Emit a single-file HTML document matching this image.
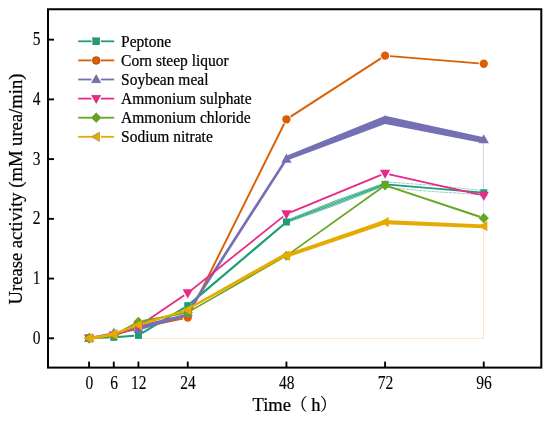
<!DOCTYPE html>
<html><head><meta charset="utf-8"><title>Urease activity</title>
<style>html,body{margin:0;padding:0;background:#fff}</style></head>
<body>
<svg width="550" height="421" viewBox="0 0 550 421" style="display:block">
<rect width="550" height="421" fill="#fff"/>
<polyline points="141.93,338.50 483.46,338.50 483.46,226.50" fill="none" stroke="#fde8bf" stroke-width="1.1"/>
<line x1="483.46" y1="139.90" x2="483.46" y2="195.45" stroke="#d6d4ea" stroke-width="1.1"/>
<line x1="483.46" y1="195.45" x2="483.46" y2="218.14" stroke="#e6e5f2" stroke-width="1"/>
<g><line x1="93.30" y1="338.05" x2="109.57" y2="337.46" stroke="#1b9e77" stroke-width="2"/><line x1="117.95" y1="336.98" x2="134.24" y2="335.72" stroke="#1b9e77" stroke-width="2"/><line x1="142.03" y1="333.22" x2="184.17" y2="307.82" stroke="#1b9e77" stroke-width="2"/><line x1="190.97" y1="302.93" x2="283.22" y2="224.74" stroke="#1b9e77" stroke-width="2.2"/><polygon points="289.79,218.74 335.76,200.31 381.73,183.88 381.73,187.08 335.76,205.31 289.79,221.74" fill="#1b9e77" fill-opacity="0.3"/><polyline points="289.79,218.94 335.76,200.51 381.73,184.08" fill="none" stroke="#1b9e77" stroke-width="0.7" stroke-opacity="0.75"/><polyline points="289.79,219.79 335.76,202.01 381.73,184.98" fill="none" stroke="#1b9e77" stroke-width="0.9" stroke-opacity="1"/><polyline points="289.79,220.69 335.76,203.61 381.73,185.98" fill="none" stroke="#1b9e77" stroke-width="0.9" stroke-opacity="1"/><polyline points="289.79,221.54 335.76,205.11 381.73,186.88" fill="none" stroke="#1b9e77" stroke-width="0.7" stroke-opacity="0.75"/><line x1="388.68" y1="184.70" x2="480.17" y2="192.45" stroke="#1b9e77" stroke-width="1.7"/><polyline points="388.68,182.10 434.42,185.48 480.17,190.25" fill="none" stroke="#1b9e77" stroke-width="1" stroke-opacity="0.45" stroke-dasharray="3.5 0.8"/><polyline points="388.68,187.60 434.42,191.68 480.17,194.45" fill="none" stroke="#1b9e77" stroke-width="1" stroke-opacity="0.45" stroke-dasharray="3.5 0.8"/><rect x="85.60" y="334.70" width="7.0" height="7.0" fill="#1b9e77"/><rect x="110.27" y="333.80" width="7.0" height="7.0" fill="#1b9e77"/><rect x="134.93" y="331.89" width="7.0" height="7.0" fill="#1b9e77"/><rect x="184.26" y="302.15" width="7.0" height="7.0" fill="#1b9e77"/><rect x="282.93" y="218.53" width="7.0" height="7.0" fill="#1b9e77"/><rect x="381.59" y="180.90" width="7.0" height="7.0" fill="#1b9e77"/><rect x="480.26" y="189.26" width="7.0" height="7.0" fill="#1b9e77"/></g>
<g><line x1="94.06" y1="337.60" x2="108.80" y2="335.81" stroke="#d95f02" stroke-width="1.9"/><line x1="118.55" y1="333.76" x2="133.65" y2="329.20" stroke="#d95f02" stroke-width="1.9"/><line x1="143.33" y1="326.74" x2="182.87" y2="318.60" stroke="#d95f02" stroke-width="1.9"/><line x1="189.99" y1="313.12" x2="284.20" y2="123.77" stroke="#d95f02" stroke-width="1.9"/><line x1="290.63" y1="116.58" x2="380.89" y2="58.39" stroke="#d95f02" stroke-width="1.9"/><line x1="390.08" y1="56.08" x2="478.77" y2="63.33" stroke="#d95f02" stroke-width="1.9"/><circle cx="89.10" cy="338.20" r="4.15" fill="#d95f02"/><circle cx="113.77" cy="335.21" r="4.15" fill="#d95f02"/><circle cx="138.43" cy="327.75" r="4.15" fill="#d95f02"/><circle cx="187.76" cy="317.59" r="4.15" fill="#d95f02"/><circle cx="286.43" cy="119.29" r="4.15" fill="#d95f02"/><circle cx="385.09" cy="55.68" r="4.15" fill="#d95f02"/><circle cx="483.76" cy="63.74" r="4.15" fill="#d95f02"/></g>
<g><line x1="93.21" y1="337.35" x2="109.65" y2="333.97" stroke="#7570b3" stroke-width="2"/><line x1="117.91" y1="332.42" x2="134.29" y2="329.64" stroke="#7570b3" stroke-width="2.5"/><polygon points="139.50,325.00 187.80,313.40 187.80,316.20 139.50,330.20" fill="#7570b3"/><line x1="188.95" y1="310.67" x2="285.24" y2="160.86" stroke="#7570b3" stroke-width="2.7"/><polygon points="286.43,155.81 385.09,115.68 385.09,123.88 286.43,160.81" fill="#7570b3"/><polygon points="385.09,115.68 483.76,137.20 483.76,143.20 385.09,123.88" fill="#7570b3"/><polygon points="89.10,332.74 83.95,341.84 94.25,341.84" fill="#7570b3"/><polygon points="113.77,327.66 108.62,336.76 118.92,336.76" fill="#7570b3"/><polygon points="138.43,323.48 133.28,332.58 143.58,332.58" fill="#7570b3"/><polygon points="187.76,307.06 182.61,316.16 192.91,316.16" fill="#7570b3"/><polygon points="286.43,153.55 281.28,162.65 291.58,162.65" fill="#7570b3"/><polygon points="385.09,115.02 379.94,124.12 390.24,124.12" fill="#7570b3"/><polygon points="483.76,134.14 478.61,143.24 488.91,143.24" fill="#7570b3"/></g>
<g><line x1="93.27" y1="337.70" x2="109.60" y2="335.72" stroke="#e7298a" stroke-width="1.8"/><line x1="117.71" y1="333.78" x2="134.48" y2="327.69" stroke="#e7298a" stroke-width="1.8"/><line x1="141.91" y1="323.91" x2="184.28" y2="295.33" stroke="#e7298a" stroke-width="1.8"/><line x1="191.04" y1="290.36" x2="283.15" y2="216.59" stroke="#e7298a" stroke-width="1.8"/><line x1="290.31" y1="212.36" x2="381.21" y2="174.94" stroke="#e7298a" stroke-width="1.8"/><line x1="389.19" y1="174.26" x2="479.66" y2="194.53" stroke="#e7298a" stroke-width="1.8"/><polygon points="89.10,343.66 83.95,334.56 94.25,334.56" fill="#e7298a"/><polygon points="113.77,340.67 108.62,331.57 118.92,331.57" fill="#e7298a"/><polygon points="138.43,331.71 133.28,322.61 143.58,322.61" fill="#e7298a"/><polygon points="187.76,298.44 182.61,289.34 192.91,289.34" fill="#e7298a"/><polygon points="286.43,219.42 281.28,210.32 291.58,210.32" fill="#e7298a"/><polygon points="385.09,178.81 379.94,169.71 390.24,169.71" fill="#e7298a"/><polygon points="483.76,200.91 478.61,191.81 488.91,191.81" fill="#e7298a"/></g>
<g><line x1="93.27" y1="337.70" x2="109.60" y2="335.72" stroke="#66a61e" stroke-width="1.8"/><line x1="117.45" y1="333.20" x2="134.74" y2="323.78" stroke="#66a61e" stroke-width="1.8"/><line x1="142.56" y1="321.00" x2="183.64" y2="313.29" stroke="#66a61e" stroke-width="1.8"/><line x1="191.40" y1="310.42" x2="282.79" y2="257.87" stroke="#66a61e" stroke-width="1.6"/><line x1="289.85" y1="253.33" x2="381.67" y2="187.73" stroke="#66a61e" stroke-width="1.7"/><line x1="389.08" y1="186.62" x2="479.77" y2="216.82" stroke="#66a61e" stroke-width="2.0"/><polygon points="89.10,333.10 94.20,338.20 89.10,343.30 84.00,338.20" fill="#66a61e"/><polygon points="113.77,330.11 118.87,335.21 113.77,340.31 108.67,335.21" fill="#66a61e"/><polygon points="138.43,316.67 143.53,321.77 138.43,326.87 133.33,321.77" fill="#66a61e"/><polygon points="187.76,307.42 192.86,312.52 187.76,317.62 182.66,312.52" fill="#66a61e"/><polygon points="286.43,250.67 291.53,255.77 286.43,260.87 281.33,255.77" fill="#66a61e"/><polygon points="385.09,180.19 390.19,185.29 385.09,190.39 379.99,185.29" fill="#66a61e"/><polygon points="483.76,213.04 488.86,218.14 483.76,223.24 478.66,218.14" fill="#66a61e"/></g>
<g><polygon points="89.10,337.10 113.77,332.92 113.77,336.12 89.10,340.30" fill="#e6ab02"/><line x1="117.71" y1="332.58" x2="134.48" y2="326.49" stroke="#e6ab02" stroke-width="2.4"/><line x1="142.45" y1="323.82" x2="183.75" y2="311.07" stroke="#e6ab02" stroke-width="2.4"/><polygon points="187.76,307.63 286.43,252.17 286.43,256.27 187.76,310.13" fill="#e6ab02"/><polygon points="286.43,253.77 385.09,219.63 385.09,224.43 286.43,257.77" fill="#e6ab02"/><polygon points="385.09,219.93 483.76,224.51 483.76,228.21 385.09,224.13" fill="#e6ab02"/><polygon points="83.64,338.20 92.74,333.05 92.74,343.35" fill="#e6ab02"/><polygon points="108.31,334.02 117.41,328.87 117.41,339.17" fill="#e6ab02"/><polygon points="132.97,325.06 142.07,319.91 142.07,330.21" fill="#e6ab02"/><polygon points="182.30,309.83 191.40,304.68 191.40,314.98" fill="#e6ab02"/><polygon points="280.97,255.77 290.07,250.62 290.07,260.92" fill="#e6ab02"/><polygon points="379.63,222.03 388.73,216.88 388.73,227.18" fill="#e6ab02"/><polygon points="478.30,226.21 487.40,221.06 487.40,231.36" fill="#e6ab02"/></g>
<rect x="48.0" y="9.25" width="493.29999999999995" height="358.35" fill="none" stroke="#000" stroke-width="2"/>
<line x1="89.10" y1="367.6" x2="89.10" y2="361.6" stroke="#000" stroke-width="1.9"/>
<line x1="113.77" y1="367.6" x2="113.77" y2="361.6" stroke="#000" stroke-width="1.9"/>
<line x1="138.43" y1="367.6" x2="138.43" y2="361.6" stroke="#000" stroke-width="1.9"/>
<line x1="187.76" y1="367.6" x2="187.76" y2="361.6" stroke="#000" stroke-width="1.9"/>
<line x1="286.43" y1="367.6" x2="286.43" y2="361.6" stroke="#000" stroke-width="1.9"/>
<line x1="385.09" y1="367.6" x2="385.09" y2="361.6" stroke="#000" stroke-width="1.9"/>
<line x1="483.76" y1="367.6" x2="483.76" y2="361.6" stroke="#000" stroke-width="1.9"/>
<line x1="48.0" y1="338.30" x2="54.0" y2="338.30" stroke="#000" stroke-width="1.9"/>
<line x1="48.0" y1="278.57" x2="54.0" y2="278.57" stroke="#000" stroke-width="1.9"/>
<line x1="48.0" y1="218.84" x2="54.0" y2="218.84" stroke="#000" stroke-width="1.9"/>
<line x1="48.0" y1="159.11" x2="54.0" y2="159.11" stroke="#000" stroke-width="1.9"/>
<line x1="48.0" y1="99.38" x2="54.0" y2="99.38" stroke="#000" stroke-width="1.9"/>
<line x1="48.0" y1="39.65" x2="54.0" y2="39.65" stroke="#000" stroke-width="1.9"/>
<g font-family="'Liberation Serif', 'Noto Serif CJK SC', serif" font-size="15.5" fill="#000" stroke="#000" stroke-width="0.22">
<text transform="translate(89.40,388.8) scale(1,1.25)" stroke-width="0.1" text-anchor="middle">0</text>
<text transform="translate(114.07,388.8) scale(1,1.25)" stroke-width="0.1" text-anchor="middle">6</text>
<text transform="translate(138.73,388.8) scale(1,1.25)" stroke-width="0.1" text-anchor="middle">12</text>
<text transform="translate(188.06,388.8) scale(1,1.25)" stroke-width="0.1" text-anchor="middle">24</text>
<text transform="translate(286.73,388.8) scale(1,1.25)" stroke-width="0.1" text-anchor="middle">48</text>
<text transform="translate(385.39,388.8) scale(1,1.25)" stroke-width="0.1" text-anchor="middle">72</text>
<text transform="translate(484.06,388.8) scale(1,1.25)" stroke-width="0.1" text-anchor="middle">96</text>
<text transform="translate(40.4,343.80) scale(1,1.25)" stroke-width="0.1" text-anchor="end">0</text>
<text transform="translate(40.4,284.07) scale(1,1.25)" stroke-width="0.1" text-anchor="end">1</text>
<text transform="translate(40.4,224.34) scale(1,1.25)" stroke-width="0.1" text-anchor="end">2</text>
<text transform="translate(40.4,164.61) scale(1,1.25)" stroke-width="0.1" text-anchor="end">3</text>
<text transform="translate(40.4,104.88) scale(1,1.25)" stroke-width="0.1" text-anchor="end">4</text>
<text transform="translate(40.4,45.15) scale(1,1.25)" stroke-width="0.1" text-anchor="end">5</text>
<text transform="translate(21.5,189.0) rotate(-90)" text-anchor="middle" font-size="18.6">Urease activity (mM urea/min)</text>
<text transform="translate(252.5,411.3) scale(1,0.97)" font-size="18.6">Time</text>
<text x="290.6" y="410.5" font-size="17" stroke-width="0.1">（</text>
<text transform="translate(311.2,411.3) scale(1,0.97)" font-size="18.5">h</text>
<text x="319.9" y="410.5" font-size="17" stroke-width="0.1">）</text>
<line x1="78.2" y1="41.30" x2="91.5" y2="41.30" stroke="#1b9e77" stroke-width="1.8"/>
<line x1="100.9" y1="41.30" x2="114.2" y2="41.30" stroke="#1b9e77" stroke-width="1.8"/>
<rect x="92.70" y="37.80" width="7.0" height="7.0" fill="#1b9e77"/>
<text transform="translate(121.1,46.90) scale(1,1.06)" font-size="15.5">Peptone</text>
<line x1="78.2" y1="60.40" x2="91.5" y2="60.40" stroke="#d95f02" stroke-width="1.8"/>
<line x1="100.9" y1="60.40" x2="114.2" y2="60.40" stroke="#d95f02" stroke-width="1.8"/>
<circle cx="96.20" cy="60.40" r="4.0" fill="#d95f02"/>
<text transform="translate(121.1,66.00) scale(1,1.06)" font-size="15.5">Corn steep liquor</text>
<line x1="78.2" y1="79.50" x2="91.5" y2="79.50" stroke="#7570b3" stroke-width="1.8"/>
<line x1="100.9" y1="79.50" x2="114.2" y2="79.50" stroke="#7570b3" stroke-width="1.8"/>
<polygon points="96.20,74.58 91.50,82.78 100.90,82.78" fill="#7570b3"/>
<text transform="translate(121.1,85.10) scale(1,1.06)" font-size="15.5">Soybean meal</text>
<line x1="78.2" y1="98.60" x2="91.5" y2="98.60" stroke="#e7298a" stroke-width="1.8"/>
<line x1="100.9" y1="98.60" x2="114.2" y2="98.60" stroke="#e7298a" stroke-width="1.8"/>
<polygon points="96.20,103.52 91.50,95.32 100.90,95.32" fill="#e7298a"/>
<text transform="translate(121.1,104.20) scale(1,1.06)" font-size="15.5">Ammonium sulphate</text>
<line x1="78.2" y1="117.70" x2="91.5" y2="117.70" stroke="#66a61e" stroke-width="1.8"/>
<line x1="100.9" y1="117.70" x2="114.2" y2="117.70" stroke="#66a61e" stroke-width="1.8"/>
<polygon points="96.20,112.80 101.10,117.70 96.20,122.60 91.30,117.70" fill="#66a61e"/>
<text transform="translate(121.1,123.30) scale(1,1.06)" font-size="15.5">Ammonium chloride</text>
<line x1="78.2" y1="136.80" x2="91.5" y2="136.80" stroke="#e6ab02" stroke-width="1.8"/>
<line x1="100.9" y1="136.80" x2="114.2" y2="136.80" stroke="#e6ab02" stroke-width="1.8"/>
<polygon points="91.28,136.80 99.48,132.10 99.48,141.50" fill="#e6ab02"/>
<text transform="translate(121.1,142.40) scale(1,1.06)" font-size="15.5">Sodium nitrate</text>
</g>
</svg>
</body></html>
